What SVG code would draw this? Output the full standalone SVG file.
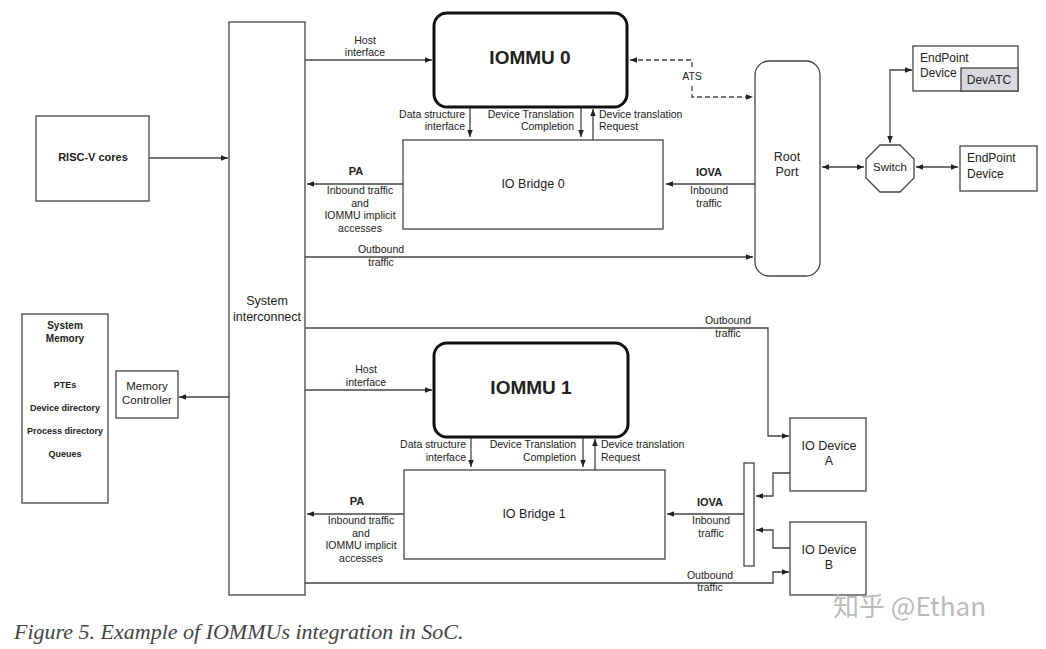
<svg xmlns="http://www.w3.org/2000/svg" width="1046" height="649" viewBox="0 0 1046 649">
<style>
text{font-family:"Liberation Sans",Arial,sans-serif;fill:#222}
.box{fill:#fff;stroke:#444;stroke-width:1.3}
.l{stroke:#444;stroke-width:1.3;fill:none}
.s{font-size:10.5px;text-anchor:middle}
.sl{font-size:10.5px}
.sr{font-size:10.5px;text-anchor:end}
.n{font-size:12.5px;text-anchor:middle}
.b{font-size:10px;font-weight:bold;text-anchor:middle}
.big{font-size:19px;font-weight:bold;text-anchor:middle}
</style>
<defs>
<marker id="a" viewBox="0 0 10 10" refX="10" refY="5" markerWidth="7" markerHeight="7" orient="auto-start-reverse" markerUnits="userSpaceOnUse"><path d="M0,1 L10,5 L0,9 z" fill="#222"/></marker>
</defs>
<rect width="1046" height="649" fill="#fff"/>
<g id="connectors">
<path class="l" d="M149,158 H228" marker-end="url(#a)"/>
<path class="l" d="M229,397 H179" marker-end="url(#a)"/>
<path class="l" d="M305,60 H432" marker-end="url(#a)"/>
<path class="l" d="M470,107 V137" marker-end="url(#a)"/>
<path class="l" d="M581,107 V137" marker-end="url(#a)"/>
<path class="l" d="M593,140 V109" marker-end="url(#a)"/>
<path class="l" d="M403,184 H307" marker-end="url(#a)"/>
<path class="l" d="M755,184 H666" marker-end="url(#a)"/>
<path class="l" d="M305,257 H753" marker-end="url(#a)"/>
<path class="l" d="M630,60 H692 V97 H753" stroke-dasharray="5,3" stroke-width="2.2" stroke="#222" marker-start="url(#a)" marker-end="url(#a)"/>
<path class="l" d="M822,167 H864" marker-start="url(#a)" marker-end="url(#a)"/>
<path class="l" d="M916,167 H958" marker-start="url(#a)" marker-end="url(#a)"/>
<path class="l" d="M890,143 V70 H912" marker-start="url(#a)" marker-end="url(#a)"/>
<path class="l" d="M305,328 H768 V436 H789" marker-end="url(#a)"/>
<path class="l" d="M305,390 H432" marker-end="url(#a)"/>
<path class="l" d="M471,437 V467" marker-end="url(#a)"/>
<path class="l" d="M583,437 V467" marker-end="url(#a)"/>
<path class="l" d="M595,470 V439" marker-end="url(#a)"/>
<path class="l" d="M404,514 H307" marker-end="url(#a)"/>
<path class="l" d="M744,514 H667" marker-end="url(#a)"/>
<path class="l" d="M790,473 H773 V496 H756" marker-end="url(#a)"/>
<path class="l" d="M790,548 H773 V530 H756" marker-end="url(#a)"/>
<path class="l" d="M305,583 H773 V572 H789" marker-end="url(#a)"/>
</g>
<g id="interconnect"><rect class="box" x="229" y="22" width="76" height="573"/><text class="n" x="267" y="305">System</text><text class="n" x="267" y="321">interconnect</text></g>
<g id="riscv"><rect class="box" x="36" y="116" width="113" height="85"/><text class="b" x="93" y="161" style="font-size:11px">RISC-V cores</text></g>
<g id="sysmem"><rect class="box" x="22" y="314" width="86" height="189"/><text class="b" x="65" y="329">System</text><text class="b" x="65" y="342">Memory</text><text class="b" x="65" y="388" style="font-size:9px">PTEs</text><text class="b" x="65" y="411" style="font-size:9px">Device directory</text><text class="b" x="65" y="434" style="font-size:9px">Process directory</text><text class="b" x="65" y="457" style="font-size:9px">Queues</text></g>
<g id="memctrl"><rect class="box" x="116" y="371" width="62" height="47"/><text class="n" x="147" y="390" style="font-size:11.5px">Memory</text><text class="n" x="147" y="404" style="font-size:11.5px">Controller</text></g>
<g id="iommu0"><rect x="434" y="13" width="193" height="94" rx="13" fill="#fff" stroke="#111" stroke-width="3"/><text class="big" x="530" y="64">IOMMU 0</text></g>
<g id="bridge0"><rect class="box" x="403" y="140" width="260" height="89"/><text class="n" x="533" y="188">IO Bridge 0</text></g>
<g id="rootport"><rect class="box" x="755" y="61" width="65" height="215" rx="14"/><text class="n" x="787" y="161">Root</text><text class="n" x="787" y="176">Port</text></g>
<g id="switch"><polygon class="box" points="880,145 900,145 914,159 914,178 900,192 880,192 866,178 866,159"/><text class="n" x="890" y="171" style="font-size:11.5px">Switch</text></g>
<g id="endpoint1"><rect class="box" x="913" y="46" width="105" height="45"/><rect x="961" y="68" width="57" height="23" fill="#d9d9df" stroke="#444" stroke-width="1.3"/><text class="sl" x="920" y="62" style="font-size:12px">EndPoint</text><text class="sl" x="920" y="77" style="font-size:12px">Device</text><text class="n" x="989" y="84" style="font-size:12px">DevATC</text></g>
<g id="endpoint2"><rect class="box" x="960" y="146" width="77" height="45"/><text class="sl" x="967" y="162" style="font-size:12px">EndPoint</text><text class="sl" x="967" y="178" style="font-size:12px">Device</text></g>
<g id="iommu1"><rect x="434" y="343" width="194" height="94" rx="13" fill="#fff" stroke="#111" stroke-width="3"/><text class="big" x="531" y="394">IOMMU 1</text></g>
<g id="bridge1"><rect class="box" x="404" y="470" width="261" height="89"/><text class="n" x="534" y="518">IO Bridge 1</text></g>
<g id="bus"><rect class="box" x="744" y="463" width="10" height="103"/></g>
<g id="deviceA"><rect class="box" x="790" y="418" width="76" height="73"/><text class="n" x="829" y="450">IO Device</text><text class="n" x="829" y="465">A</text></g>
<g id="deviceB"><rect class="box" x="790" y="522" width="76" height="73"/><text class="n" x="829" y="554">IO Device</text><text class="n" x="829" y="569">B</text></g>
<g id="labels">
<text class="s" x="365" y="44">Host</text><text class="s" x="365" y="56">interface</text>
<text class="sr" x="465" y="118">Data structure</text><text class="sr" x="465" y="130">interface</text>
<text class="sr" x="574" y="118">Device Translation</text><text class="sr" x="574" y="130">Completion</text>
<text class="sl" x="599" y="118">Device translation</text><text class="sl" x="599" y="130">Request</text>
<rect x="680" y="70" width="24" height="13" fill="#fff"/>
<text class="s" x="692" y="80">ATS</text>
<text class="b" x="356" y="175" style="font-size:11px">PA</text>
<text class="s" x="360" y="194">Inbound traffic</text><text class="s" x="360" y="207">and</text><text class="s" x="360" y="219">IOMMU implicit</text><text class="s" x="360" y="232">accesses</text>
<text class="b" x="709" y="176" style="font-size:11px">IOVA</text>
<text class="s" x="709" y="194">Inbound</text><text class="s" x="709" y="207">traffic</text>
<text class="s" x="381" y="253">Outbound</text><text class="s" x="381" y="266">traffic</text>
<text class="s" x="728" y="324">Outbound</text><text class="s" x="728" y="337">traffic</text>
<text class="s" x="366" y="373">Host</text><text class="s" x="366" y="386">interface</text>
<text class="sr" x="466" y="448">Data structure</text><text class="sr" x="466" y="461">interface</text>
<text class="sr" x="576" y="448">Device Translation</text><text class="sr" x="576" y="461">Completion</text>
<text class="sl" x="601" y="448">Device translation</text><text class="sl" x="601" y="461">Request</text>
<text class="b" x="357" y="505" style="font-size:11px">PA</text>
<text class="s" x="361" y="524">Inbound traffic</text><text class="s" x="361" y="537">and</text><text class="s" x="361" y="549">IOMMU implicit</text><text class="s" x="361" y="562">accesses</text>
<text class="b" x="710" y="506" style="font-size:11px">IOVA</text>
<text class="s" x="711" y="524">Inbound</text><text class="s" x="711" y="537">traffic</text>
<text class="s" x="710" y="579">Outbound</text><text class="s" x="710" y="591">traffic</text>
</g>
<text x="14" y="639" style="font-family:'Liberation Serif','DejaVu Serif',serif;font-style:italic;font-size:22px;fill:#444">Figure 5. Example of IOMMUs integration in SoC.</text>
<text x="833" y="616" style="font-family:'Noto Sans CJK SC','Noto Sans',sans-serif;font-size:26px;fill:#bbb">知乎 @Ethan</text>
</svg>
